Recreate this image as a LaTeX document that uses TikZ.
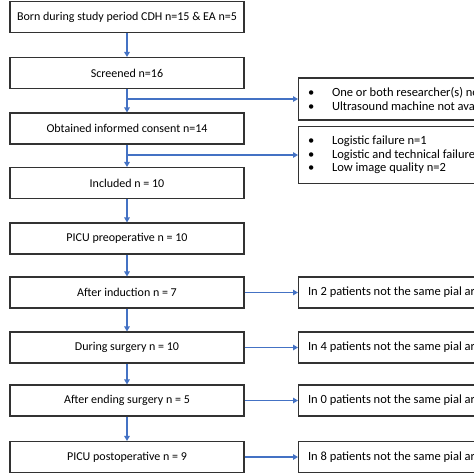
\documentclass[tikz,border=0pt]{standalone}
\usepackage{fontspec}
\setmainfont{Carlito}
\usetikzlibrary{arrows.meta}
\definecolor{arrowblue}{RGB}{68,114,196}
\definecolor{boxline}{RGB}{50,50,50}
\begin{document}
\begin{tikzpicture}[x=1pt,y=-1pt,
  lbox/.style={draw=boxline,line width=1.1pt,minimum width=234pt,minimum height=31pt,inner sep=0pt,font=\fontsize{12}{13.5}\selectfont},
  rbox/.style={draw=boxline,line width=1.1pt,anchor=west,text width=300pt,align=flush left,inner xsep=9.5pt,inner ysep=0pt,font=\fontsize{12.5}{13.5}\selectfont},
  arr/.style={draw=arrowblue,line width=1.8pt,-{Triangle[length=5pt,width=5.5pt]}}]
\useasboundingbox (0,0) rectangle (474,474);
\fill[white] (0,0) rectangle (474,474);
\clip (0,0) rectangle (474,474);
\node[lbox] (b1) at (127,17) {Born during study period CDH n=15 \& EA n=5};
\node[lbox] (b2) at (127,73) {Screened n=16};
\node[lbox] (b3) at (127,128.5) {Obtained informed consent n=14};
\node[lbox] (b4) at (127,183) {Included n = 10};
\node[lbox] (b5) at (127,238.5) {PICU preoperative n = 10};
\node[lbox] (b6) at (127,292.5) {After induction n = 7};
\node[lbox] (b7) at (127,347.5) {During surgery n = 10};
\node[lbox] (b8) at (127,400.5) {After ending surgery n = 5};
\node[lbox] (b9) at (127,457) {PICU postoperative n = 9};
\node[rbox,minimum height=42pt] (ra) at (298,99) {\makebox[24pt][l]{\textbullet}One or both researcher(s) not available\\\makebox[24pt][l]{\textbullet}Ultrasound machine not available};
\node[rbox,minimum height=57pt] (rb) at (298,155) {\makebox[24pt][l]{\textbullet}Logistic failure n=1\\\makebox[24pt][l]{\textbullet}Logistic and technical failure n=1\\\makebox[24pt][l]{\textbullet}Low image quality n=2};
\node[rbox,minimum height=31pt] (rc) at (298,292.5) {In 2 patients not the same pial artery};
\node[rbox,minimum height=31pt] (rd) at (298,347.5) {In 4 patients not the same pial artery};
\node[rbox,minimum height=31pt] (re) at (298,400.5) {In 0 patients not the same pial artery};
\node[rbox,minimum height=31pt] (rf) at (298,457) {In 8 patients not the same pial artery};
\draw[arr] (b1.south) -- (b2.north);
\draw[arr] (b2.south) -- (b3.north);
\draw[arr] (b3.south) -- (b4.north);
\draw[arr] (b4.south) -- (b5.north);
\draw[arr] (b5.south) -- (b6.north);
\draw[arr] (b6.south) -- (b7.north);
\draw[arr] (b7.south) -- (b8.north);
\draw[arr] (b8.south) -- (b9.north);
\draw[arr] (b2.south |- ra.west) -- (ra.west);
\draw[arr] (b3.south |- rb.west) -- (rb.west);
\draw[arr] (b6.east) -- (rc.west);
\draw[arr] (b7.east) -- (rd.west);
\draw[arr] (b8.east) -- (re.west);
\draw[arr] (b9.east) -- (rf.west);
\end{tikzpicture}
\end{document}
